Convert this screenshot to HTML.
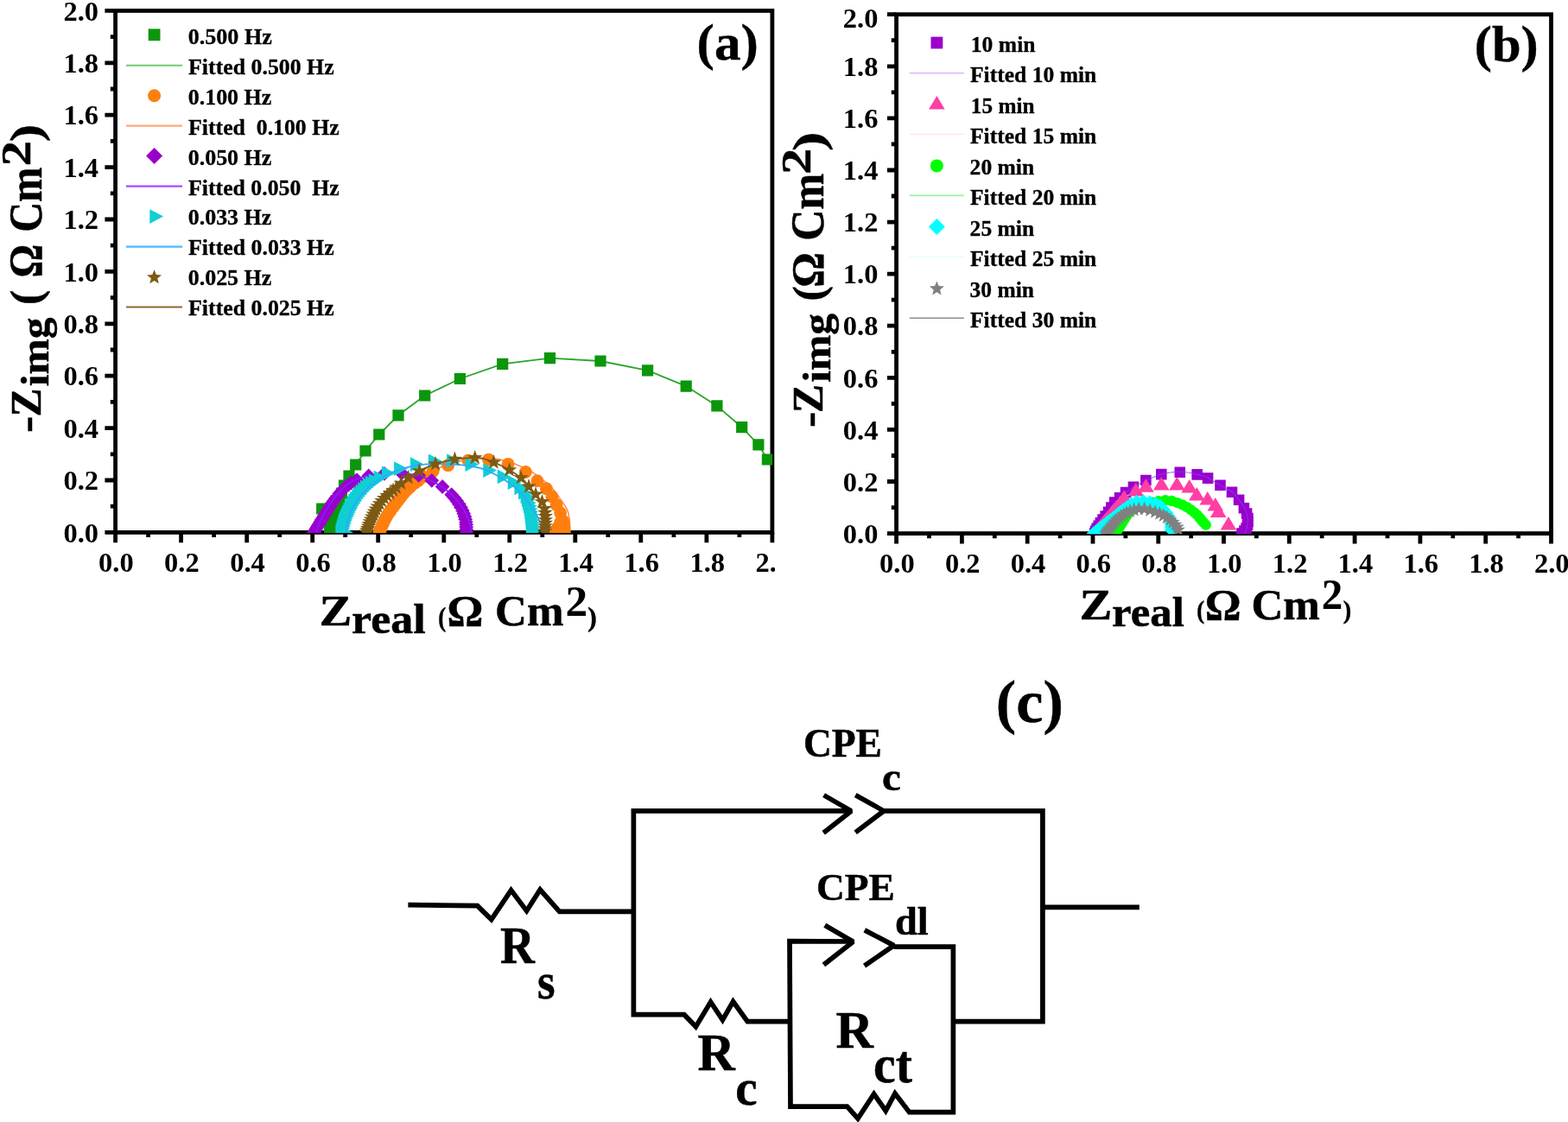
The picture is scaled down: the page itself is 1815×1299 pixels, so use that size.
<!DOCTYPE html>
<html lang="en"><head><meta charset="utf-8"><title>Nyquist plots and equivalent circuit</title>
<style>html,body{margin:0;padding:0;background:#fff}body{width:1815px;height:1299px;overflow:hidden}svg{display:block}text{font-family:"Liberation Serif", "DejaVu Serif", serif}</style></head><body>
<svg width="1815" height="1299" viewBox="0 0 1815 1299">
<rect width="1815" height="1299" fill="#fff"/>
<defs>
<clipPath id="pa-clip"><rect x="133.6" y="12.4" width="760.5" height="604.6"/></clipPath>
<clipPath id="pb-clip"><rect x="1037.6" y="16.7" width="757.9" height="601.5"/></clipPath>
<clipPath id="pa-clipx"><rect x="0" y="0" width="897" height="1299"/></clipPath>
</defs>
<g id="pa-axes" stroke="#000" stroke-width="4.8" fill="none" stroke-linecap="butt">
<rect x="133.6" y="12.4" width="760.3" height="604"/>
<path d="M133.6 616.4v11.8M133.6 616.4h-12.2M171.6 616.4v5.6M133.6 586.2h-5.8M209.6 616.4v11.8M133.6 556h-12.2M247.6 616.4v5.6M133.6 525.8h-5.8M285.7 616.4v11.8M133.6 495.6h-12.2M323.7 616.4v5.6M133.6 465.4h-5.8M361.7 616.4v11.8M133.6 435.2h-12.2M399.7 616.4v5.6M133.6 405h-5.8M437.7 616.4v11.8M133.6 374.8h-12.2M475.7 616.4v5.6M133.6 344.6h-5.8M513.8 616.4v11.8M133.6 314.4h-12.2M551.8 616.4v5.6M133.6 284.2h-5.8M589.8 616.4v11.8M133.6 254h-12.2M627.8 616.4v5.6M133.6 223.8h-5.8M665.8 616.4v11.8M133.6 193.6h-12.2M703.8 616.4v5.6M133.6 163.4h-5.8M741.8 616.4v11.8M133.6 133.2h-12.2M779.9 616.4v5.6M133.6 103h-5.8M817.9 616.4v11.8M133.6 72.8h-12.2M855.9 616.4v5.6M133.6 42.6h-5.8M893.9 616.4v11.8M133.6 12.4h-12.2"/>
</g>
<g id="pa-ticklabels" font-size="32.5" font-weight="bold" fill="#000">
<text x="114" y="627.6" text-anchor="end">0.0</text>
<text x="114" y="567.2" text-anchor="end">0.2</text>
<text x="114" y="506.8" text-anchor="end">0.4</text>
<text x="114" y="446.4" text-anchor="end">0.6</text>
<text x="114" y="386" text-anchor="end">0.8</text>
<text x="114" y="325.6" text-anchor="end">1.0</text>
<text x="114" y="265.2" text-anchor="end">1.2</text>
<text x="114" y="204.8" text-anchor="end">1.4</text>
<text x="114" y="144.4" text-anchor="end">1.6</text>
<text x="114" y="84" text-anchor="end">1.8</text>
<text x="114" y="23.6" text-anchor="end">2.0</text>
<text x="134.4" y="661.5" text-anchor="middle">0.0</text>
<text x="210.4" y="661.5" text-anchor="middle">0.2</text>
<text x="286.5" y="661.5" text-anchor="middle">0.4</text>
<text x="362.5" y="661.5" text-anchor="middle">0.6</text>
<text x="438.5" y="661.5" text-anchor="middle">0.8</text>
<text x="514.5" y="661.5" text-anchor="middle">1.0</text>
<text x="590.6" y="661.5" text-anchor="middle">1.2</text>
<text x="666.6" y="661.5" text-anchor="middle">1.4</text>
<text x="742.6" y="661.5" text-anchor="middle">1.6</text>
<text x="818.7" y="661.5" text-anchor="middle">1.8</text>
<text x="894.7" y="661.5" text-anchor="middle" clip-path="url(#pa-clipx)">2.0</text>
</g>
<g id="pa-titles" font-weight="bold" fill="#000">
<text transform="translate(369.54 724.30) scale(1.1168 1)" font-size="50.8" stroke="#000" stroke-width="0.5">Z</text>
<text transform="translate(406.99 732.70) scale(1.0515 1)" font-size="49.5" stroke="#000" stroke-width="0.5">real</text>
<text transform="translate(507.17 724.90) scale(0.8205 1)" font-size="32.5" stroke="#000" stroke-width="0.5">(</text>
<text transform="translate(517.57 724.30) scale(1.0354 1)" font-size="50.5" stroke="#000" stroke-width="0.5">Ω</text>
<text transform="translate(573.01 724.30) scale(1.0116 1)" font-size="50.5" stroke="#000" stroke-width="0.5">Cm</text>
<text transform="translate(654.39 713.00) scale(1.0084 1)" font-size="51">2</text>
<text transform="translate(680.31 724.90) scale(0.9730 1)" font-size="32.5" stroke="#000" stroke-width="0.5">)</text>
<text transform="translate(47.30 501.01) rotate(-90) scale(1.1595 1)" font-size="50" stroke="#000" stroke-width="0.5">-</text>
<text transform="translate(47.00 482.52) rotate(-90) scale(0.9606 1)" font-size="51.5" stroke="#000" stroke-width="0.5">Z</text>
<text transform="translate(55.80 447.27) rotate(-90) scale(1.0426 1)" font-size="47.5" stroke="#000" stroke-width="0.5">img</text>
<text transform="translate(47.40 353.02) rotate(-90) scale(1.0219 1)" font-size="50.8" stroke="#000" stroke-width="0.5">(</text>
<text transform="translate(47.70 321.51) rotate(-90) scale(0.8977 1)" font-size="54" stroke="#000" stroke-width="0.5">Ω</text>
<text transform="translate(48.30 268.87) rotate(-90) scale(0.8792 1)" font-size="55" stroke="#000" stroke-width="0.5">Cm</text>
<text transform="translate(34.80 192.44) rotate(-90) scale(1.2159 1)" font-size="48.5" stroke="#000" stroke-width="0.5">2</text>
<text transform="translate(47.40 164.22) rotate(-90) scale(1.2080 1)" font-size="50.8" stroke="#000" stroke-width="0.5">)</text>
</g>
<g id="pa-label" font-weight="bold"><text transform="translate(806.59 69.20) scale(1.0194 1)" font-size="60" stroke="#000" stroke-width="0.4">(a)</text></g>
<g id="pa-legend" font-weight="bold" fill="#000">
<path d="M171.7 33.4h13.8v13.8h-13.8z" fill="#0b960b"/>
<text transform="translate(217.68 50.60) scale(1.0044 1)" font-size="26" stroke="#000" stroke-width="0.3">0.500 Hz</text>
<path d="M146 75.7H211" stroke="#6fcb6f" stroke-width="2.1" fill="none"/>
<text transform="translate(218.10 85.58) scale(0.9934 1)" font-size="26" stroke="#000" stroke-width="0.3">Fitted 0.500 Hz</text>
<path d="M171.1 110.8a7.5 7.5 0 1 0 15 0a7.5 7.5 0 1 0 -15 0z" fill="#ff7f0e"/>
<text transform="translate(217.69 120.56) scale(0.9992 1)" font-size="26" stroke="#000" stroke-width="0.3">0.100 Hz</text>
<path d="M146 145.6H211" stroke="#ffa77a" stroke-width="2.1" fill="none"/>
<text transform="translate(218.10 155.54) scale(0.9908 1)" font-size="26" stroke="#000" stroke-width="0.3">Fitted  0.100 Hz</text>
<path d="M178.6 171l9.5 9.5l-9.5 9.5l-9.5 -9.5z" fill="#9a00cc"/>
<text transform="translate(217.69 190.52) scale(0.9992 1)" font-size="26" stroke="#000" stroke-width="0.3">0.050 Hz</text>
<path d="M146 215.6H211" stroke="#a64dff" stroke-width="2.1" fill="none"/>
<text transform="translate(218.10 225.50) scale(0.9908 1)" font-size="26" stroke="#000" stroke-width="0.3">Fitted 0.050  Hz</text>
<path d="M173.3 242.2L189.1 250.6L173.3 258.9z" fill="#0fcfd4"/>
<text transform="translate(217.69 260.48) scale(0.9992 1)" font-size="26" stroke="#000" stroke-width="0.3">0.033 Hz</text>
<path d="M146 285.6H211" stroke="#4db8ff" stroke-width="2.1" fill="none"/>
<text transform="translate(218.10 295.46) scale(0.9934 1)" font-size="26" stroke="#000" stroke-width="0.3">Fitted 0.033 Hz</text>
<path d="M178.6 312.2L180.9 318L187.1 318.4L182.3 322.3L183.8 328.3L178.6 325L173.4 328.3L174.9 322.3L170.1 318.4L176.3 318z" fill="#7d5a14"/>
<text transform="translate(217.69 330.44) scale(0.9992 1)" font-size="26" stroke="#000" stroke-width="0.3">0.025 Hz</text>
<path d="M146 355.5H211" stroke="#8a6a2a" stroke-width="2.1" fill="none"/>
<text transform="translate(218.10 365.42) scale(0.9934 1)" font-size="26" stroke="#000" stroke-width="0.3">Fitted 0.025 Hz</text>
</g>
<g id="pa-data" clip-path="url(#pa-clip)">
<path d="M888.4 532L877.9 514.9L858.7 494.7L829.9 469.9L794.2 447.1L749.6 428.9L695 418L636.5 414.7L581.7 421.3L532.4 438.5L491.7 458L461 480.8L438.8 503L423 522L411.7 538L404 551L398.5 562L395.5 571L393 579L391 586L389.2 592L387.6 597L386.2 601.5L385 605L384 608L383.2 610.5L382.6 612.5L382 614L381.6 615.5" stroke="#2aa52a" stroke-width="1.8" fill="none"/>
<path d="M881.8 525.4h13.2v13.2h-13.2zM871.3 508.3h13.2v13.2h-13.2zM852.1 488.1h13.2v13.2h-13.2zM823.3 463.3h13.2v13.2h-13.2zM787.6 440.5h13.2v13.2h-13.2zM743 422.3h13.2v13.2h-13.2zM688.4 411.4h13.2v13.2h-13.2zM629.9 408.1h13.2v13.2h-13.2zM575.1 414.7h13.2v13.2h-13.2zM525.8 431.9h13.2v13.2h-13.2zM485.1 451.4h13.2v13.2h-13.2zM454.4 474.2h13.2v13.2h-13.2zM432.2 496.4h13.2v13.2h-13.2zM416.4 515.4h13.2v13.2h-13.2zM405.1 531.4h13.2v13.2h-13.2zM397.4 544.4h13.2v13.2h-13.2zM391.9 555.4h13.2v13.2h-13.2zM388.9 564.4h13.2v13.2h-13.2zM386.4 572.4h13.2v13.2h-13.2zM384.4 579.4h13.2v13.2h-13.2zM382.6 585.4h13.2v13.2h-13.2zM381 590.4h13.2v13.2h-13.2zM379.6 594.9h13.2v13.2h-13.2zM378.4 598.4h13.2v13.2h-13.2zM377.4 601.4h13.2v13.2h-13.2zM376.6 603.9h13.2v13.2h-13.2zM376 605.9h13.2v13.2h-13.2zM375.4 607.4h13.2v13.2h-13.2zM375 608.9h13.2v13.2h-13.2zM409.4 559.4h13.2v13.2h-13.2zM366.1 582.4h13.2v13.2h-13.2z" fill="#0b960b"/>
<path d="M439.5 616.4L440.5 614.1L441.9 610.9L443.5 607.2L445.3 603.2L447.2 599.4L449 596L450.8 593L452.7 590.2L454.7 587.6L456.7 585L458.7 582.5L460.6 580L462.4 577.6L464.2 575.3L465.9 573L467.7 570.8L469.5 568.7L471.5 566.6L473.6 564.6L475.7 562.8L477.9 561L480.1 559.2L482.5 557.4L485 555.6L487.6 553.7L490.4 551.8L493.3 549.8L496.2 548L499.1 546.2L502 544.6L504.8 543.2L507.4 542L510.1 540.9L512.9 539.8L515.8 538.8L519 537.8L522.5 536.7L526.1 535.6L529.9 534.6L533.9 533.6L537.9 532.7L542 532L546.2 531.4L550.6 531L555 530.6L559.4 530.4L563.8 530.4L568 530.6L572 531L576 531.6L579.9 532.4L583.6 533.3L587.4 534.3L591 535.4L594.6 536.6L598.2 537.9L601.7 539.4L605.1 540.9L608.4 542.4L611.4 544L614.2 545.6L616.8 547.2L619.2 548.9L621.5 550.5L623.7 552.3L626 554L628.3 555.8L630.6 557.5L632.8 559.3L635 561.2L637.1 563.1L639 565L640.8 567L642.4 569.1L644 571.2L645.5 573.3L646.9 575.5L648.4 577.6L649.9 579.7L651.4 581.8L652.9 583.9L654.3 586.1L655.6 588.2L656.6 590.4L657.4 592.6L658 594.9L658.5 597.2L658.9 599.5L659.2 601.8L659.4 604L659.6 606.3L659.6 608.7L659.6 611L659.5 613.2L659.4 615.1L659.4 616.4" stroke="#ff8c4d" stroke-width="1.6" fill="none"/>
<path d="M431.7 616.4a7.4 7.4 0 1 0 14.8 0a7.4 7.4 0 1 0 -14.8 0zM432.5 614.4a7.4 7.4 0 1 0 14.8 0a7.4 7.4 0 1 0 -14.8 0zM433.4 612.3a7.4 7.4 0 1 0 14.8 0a7.4 7.4 0 1 0 -14.8 0zM434.3 610.1a7.4 7.4 0 1 0 14.8 0a7.4 7.4 0 1 0 -14.8 0zM435.2 608a7.4 7.4 0 1 0 14.8 0a7.4 7.4 0 1 0 -14.8 0zM436.2 605.7a7.4 7.4 0 1 0 14.8 0a7.4 7.4 0 1 0 -14.8 0zM437.3 603.5a7.4 7.4 0 1 0 14.8 0a7.4 7.4 0 1 0 -14.8 0zM438.3 601.2a7.4 7.4 0 1 0 14.8 0a7.4 7.4 0 1 0 -14.8 0zM439.6 598.9a7.4 7.4 0 1 0 14.8 0a7.4 7.4 0 1 0 -14.8 0zM441 596.6a7.4 7.4 0 1 0 14.8 0a7.4 7.4 0 1 0 -14.8 0zM442.5 594.3a7.4 7.4 0 1 0 14.8 0a7.4 7.4 0 1 0 -14.8 0zM444.2 592a7.4 7.4 0 1 0 14.8 0a7.4 7.4 0 1 0 -14.8 0zM445.8 589.6a7.4 7.4 0 1 0 14.8 0a7.4 7.4 0 1 0 -14.8 0zM447.6 587.2a7.4 7.4 0 1 0 14.8 0a7.4 7.4 0 1 0 -14.8 0zM449.4 584.8a7.4 7.4 0 1 0 14.8 0a7.4 7.4 0 1 0 -14.8 0zM451.3 582.3a7.4 7.4 0 1 0 14.8 0a7.4 7.4 0 1 0 -14.8 0zM453.3 579.7a7.4 7.4 0 1 0 14.8 0a7.4 7.4 0 1 0 -14.8 0zM455.3 577.1a7.4 7.4 0 1 0 14.8 0a7.4 7.4 0 1 0 -14.8 0zM457.3 574.4a7.4 7.4 0 1 0 14.8 0a7.4 7.4 0 1 0 -14.8 0zM459.5 571.7a7.4 7.4 0 1 0 14.8 0a7.4 7.4 0 1 0 -14.8 0zM461.8 569.1a7.4 7.4 0 1 0 14.8 0a7.4 7.4 0 1 0 -14.8 0zM464.4 566.5a7.4 7.4 0 1 0 14.8 0a7.4 7.4 0 1 0 -14.8 0zM467.1 563.9a7.4 7.4 0 1 0 14.8 0a7.4 7.4 0 1 0 -14.8 0zM470 561.5a7.4 7.4 0 1 0 14.8 0a7.4 7.4 0 1 0 -14.8 0zM473.1 559.1a7.4 7.4 0 1 0 14.8 0a7.4 7.4 0 1 0 -14.8 0zM476.8 556.4a7.4 7.4 0 1 0 14.8 0a7.4 7.4 0 1 0 -14.8 0zM483 552.1a7.4 7.4 0 1 0 14.8 0a7.4 7.4 0 1 0 -14.8 0zM493.9 545.4a7.4 7.4 0 1 0 14.8 0a7.4 7.4 0 1 0 -14.8 0zM511.3 538.7a7.4 7.4 0 1 0 14.8 0a7.4 7.4 0 1 0 -14.8 0zM534.6 533.1a7.4 7.4 0 1 0 14.8 0a7.4 7.4 0 1 0 -14.8 0zM558.1 532.1a7.4 7.4 0 1 0 14.8 0a7.4 7.4 0 1 0 -14.8 0zM580.7 537.3a7.4 7.4 0 1 0 14.8 0a7.4 7.4 0 1 0 -14.8 0zM601 546.5a7.4 7.4 0 1 0 14.8 0a7.4 7.4 0 1 0 -14.8 0zM614.5 556.7a7.4 7.4 0 1 0 14.8 0a7.4 7.4 0 1 0 -14.8 0zM625 565.7a7.4 7.4 0 1 0 14.8 0a7.4 7.4 0 1 0 -14.8 0zM631.5 575a7.4 7.4 0 1 0 14.8 0a7.4 7.4 0 1 0 -14.8 0zM636.7 584.4a7.4 7.4 0 1 0 14.8 0a7.4 7.4 0 1 0 -14.8 0zM641.2 593.7a7.4 7.4 0 1 0 14.8 0a7.4 7.4 0 1 0 -14.8 0zM644.3 603a7.4 7.4 0 1 0 14.8 0a7.4 7.4 0 1 0 -14.8 0zM645.2 606.8a7.4 7.4 0 1 0 14.8 0a7.4 7.4 0 1 0 -14.8 0zM645.6 610.3a7.4 7.4 0 1 0 14.8 0a7.4 7.4 0 1 0 -14.8 0zM645.8 613.4a7.4 7.4 0 1 0 14.8 0a7.4 7.4 0 1 0 -14.8 0zM646 616.2a7.4 7.4 0 1 0 14.8 0a7.4 7.4 0 1 0 -14.8 0zM638.1 611a7.4 7.4 0 1 0 14.8 0a7.4 7.4 0 1 0 -14.8 0zM641.1 605a7.4 7.4 0 1 0 14.8 0a7.4 7.4 0 1 0 -14.8 0zM635.6 616a7.4 7.4 0 1 0 14.8 0a7.4 7.4 0 1 0 -14.8 0z" fill="#ff7f0e"/>
<path d="M363.5 608l8.4 8.4l-8.4 8.4l-8.4 -8.4zM364.6 606.1l8.4 8.4l-8.4 8.4l-8.4 -8.4zM365.8 604.2l8.4 8.4l-8.4 8.4l-8.4 -8.4zM367 602.2l8.4 8.4l-8.4 8.4l-8.4 -8.4zM368.2 600.2l8.4 8.4l-8.4 8.4l-8.4 -8.4zM369.5 598.1l8.4 8.4l-8.4 8.4l-8.4 -8.4zM370.8 595.9l8.4 8.4l-8.4 8.4l-8.4 -8.4zM372.1 593.7l8.4 8.4l-8.4 8.4l-8.4 -8.4zM373.5 591.5l8.4 8.4l-8.4 8.4l-8.4 -8.4zM374.9 589.2l8.4 8.4l-8.4 8.4l-8.4 -8.4zM376.4 586.8l8.4 8.4l-8.4 8.4l-8.4 -8.4zM377.9 584.4l8.4 8.4l-8.4 8.4l-8.4 -8.4zM379.5 582l8.4 8.4l-8.4 8.4l-8.4 -8.4zM381.1 579.4l8.4 8.4l-8.4 8.4l-8.4 -8.4zM382.7 576.8l8.4 8.4l-8.4 8.4l-8.4 -8.4zM384.4 574.2l8.4 8.4l-8.4 8.4l-8.4 -8.4zM386.3 571.5l8.4 8.4l-8.4 8.4l-8.4 -8.4zM388.2 568.8l8.4 8.4l-8.4 8.4l-8.4 -8.4zM390.3 566.1l8.4 8.4l-8.4 8.4l-8.4 -8.4zM392.5 563.4l8.4 8.4l-8.4 8.4l-8.4 -8.4zM394.9 560.7l8.4 8.4l-8.4 8.4l-8.4 -8.4zM397.4 558l8.4 8.4l-8.4 8.4l-8.4 -8.4zM400.1 555.3l8.4 8.4l-8.4 8.4l-8.4 -8.4zM403.1 552.9l8.4 8.4l-8.4 8.4l-8.4 -8.4zM406.4 550.7l8.4 8.4l-8.4 8.4l-8.4 -8.4zM413 547.2l8.4 8.4l-8.4 8.4l-8.4 -8.4zM426.7 542.5l8.4 8.4l-8.4 8.4l-8.4 -8.4zM444.9 539.9l8.4 8.4l-8.4 8.4l-8.4 -8.4zM464.9 539.4l8.4 8.4l-8.4 8.4l-8.4 -8.4zM484.7 542l8.4 8.4l-8.4 8.4l-8.4 -8.4zM499.8 547.9l8.4 8.4l-8.4 8.4l-8.4 -8.4zM512.1 555.1l8.4 8.4l-8.4 8.4l-8.4 -8.4zM522.7 564.3l8.4 8.4l-8.4 8.4l-8.4 -8.4zM526 568l8.4 8.4l-8.4 8.4l-8.4 -8.4zM528.8 571.7l8.4 8.4l-8.4 8.4l-8.4 -8.4zM531.4 575.4l8.4 8.4l-8.4 8.4l-8.4 -8.4zM533.5 579l8.4 8.4l-8.4 8.4l-8.4 -8.4zM535.3 582.6l8.4 8.4l-8.4 8.4l-8.4 -8.4zM536.7 586.1l8.4 8.4l-8.4 8.4l-8.4 -8.4zM537.9 589.5l8.4 8.4l-8.4 8.4l-8.4 -8.4zM538.7 592.8l8.4 8.4l-8.4 8.4l-8.4 -8.4zM539.3 595.9l8.4 8.4l-8.4 8.4l-8.4 -8.4zM539.6 598.9l8.4 8.4l-8.4 8.4l-8.4 -8.4zM539.7 601.8l8.4 8.4l-8.4 8.4l-8.4 -8.4zM539.8 604.5l8.4 8.4l-8.4 8.4l-8.4 -8.4zM540 607.1l8.4 8.4l-8.4 8.4l-8.4 -8.4z" fill="#9a00cc"/>
<path d="M366 616.4L366.5 615L367.1 613.1L367.8 610.9L368.7 608.5L369.5 606.1L370.4 604L371.2 602.1L372.1 600.4L372.9 598.7L373.9 596.9L375 595L376.4 592.7L378 590L379.9 587L381.9 583.8L384.1 580.5L386.3 577.4L388.5 574.5L390.7 571.8L393 569.2L395.3 566.6L397.7 564.3L400.3 562L403 560L405.9 558.2L409.1 556.5L412.3 555L415.7 553.7L419 552.5L422.4 551.5L425.8 550.7L429.3 550L432.8 549.5L436.3 549.1L439.7 548.8L443 548.5L446.1 548.2L449 548L451.9 547.9L454.8 547.9L457.8 547.9L461 548L464.5 548.2L468.2 548.4L472 548.7L475.8 549.1L479.5 549.6L483 550.3L486.3 551.2L489.3 552.2L492.3 553.3L495.3 554.6L498.2 556L501.2 557.6L504.3 559.3L507.4 561.1L510.5 563.1L513.6 565.2L516.6 567.4L519.4 569.7L522.1 572.1L524.7 574.6L527.2 577.2L529.6 579.8L531.9 582.6L534 585.5L536 588.6L537.9 592L539.6 595.4L541.2 598.8L542.5 602L543.6 604.8L544.3 607.3L544.7 609.7L544.8 611.8L544.8 613.7L544.8 615.2L544.8 616.4" stroke="#8a1aff" stroke-width="1.8" fill="none"/>
<path d="M388.3 608L404.1 616.4L388.3 624.8zM388.8 605.9L404.6 614.3L388.8 622.6zM389.4 603.7L405.2 612.1L389.4 620.4zM389.9 601.5L405.7 609.8L389.9 618.2zM390.6 599.2L406.4 607.5L390.6 615.9zM391.3 596.8L407.1 605.2L391.3 613.5zM392 594.4L407.8 602.8L392 611.1zM392.9 592L408.7 600.4L392.9 608.7zM394 589.6L409.8 598L394 606.3zM395.1 587.1L410.9 595.5L395.1 603.8zM396.2 584.6L412 592.9L396.2 601.3zM397.5 582L413.3 590.3L397.5 598.7zM398.8 579.4L414.6 587.7L398.8 596.1zM400.1 576.7L415.9 585L400.1 593.4zM401.7 574L417.5 582.4L401.7 590.7zM403.4 571.3L419.2 579.7L403.4 588zM405.2 568.7L421 577L405.2 585.4zM407.3 566L423.1 574.3L407.3 582.7zM409.5 563.3L425.3 571.7L409.5 580zM411.8 560.7L427.6 569.1L411.8 577.4zM414.3 558.1L430.1 566.4L414.3 574.8zM417 555.5L432.8 563.9L417 572.2zM420 553.1L435.8 561.5L420 569.8zM423.1 550.8L438.9 559.2L423.1 567.5zM426.8 548.3L442.6 556.7L426.8 565zM432.6 544.6L448.4 553L432.6 561.3zM441.9 539.6L457.7 548L441.9 556.3zM456.1 534.2L471.9 542.5L456.1 550.9zM475 529.2L490.8 537.6L475 545.9zM495.8 525.4L511.6 533.7L495.8 542.1zM517.2 525.2L533 533.6L517.2 541.9zM538.5 529.2L554.3 537.5L538.5 545.9zM559.3 536.2L575.1 544.6L559.3 552.9zM575.8 543.5L591.6 551.9L575.8 560.2zM587.8 550.2L603.6 558.6L587.8 566.9zM595.4 556.5L611.2 564.8L595.4 573.2zM600 561.9L615.8 570.3L600 578.6zM602.6 566.4L618.4 574.8L602.6 583.1zM603.9 570.2L619.7 578.5L603.9 586.9zM605 573.8L620.8 582.2L605 590.5zM605.9 577.4L621.7 585.8L605.9 594.1zM606.7 580.9L622.5 589.2L606.7 597.6zM607.3 584.2L623.1 592.6L607.3 600.9zM607.7 587.5L623.5 595.8L607.7 604.2zM608.1 590.6L623.9 599L608.1 607.3zM608.4 593.7L624.2 602L608.4 610.4zM608.7 596.6L624.5 604.9L608.7 613.3zM608.9 599.4L624.7 607.8L608.9 616.1zM609 602.1L624.8 610.5L609 618.8zM609.2 604.7L625 613.1L609.2 621.4zM609.3 607.3L625.1 615.6L609.3 624zM391.1 607L406.9 615.4L391.1 623.8zM393.1 608L408.9 616.4L393.1 624.8z" fill="#0fcfd4"/>
<path d="M400.6 616.4L400.9 614.3L401.4 611.5L401.9 608.1L402.5 604.4L403.3 600.8L404.2 597.6L405.3 594.6L406.5 591.7L407.9 588.8L409.4 586L411 583.3L412.7 580.6L414.5 578L416.5 575.4L418.5 572.8L420.6 570.4L422.7 568.1L424.8 566L426.8 564.1L428.9 562.3L430.9 560.8L432.9 559.3L435 557.8L437 556.4L439 555L441 553.7L443 552.4L445 551.2L447 550.1L449 549L451 548L453.1 547.2L455.1 546.4L457.1 545.6L459.2 544.9L461.2 544.2L463.2 543.5L465.2 542.9L467.2 542.2L469.3 541.7L471.3 541.1L473.3 540.6L475.3 540.1L477.1 539.7L479 539.2L481 538.9L483.1 538.5L485.5 538.2L488.2 537.9L491.3 537.7L494.6 537.4L497.8 537.2L500.9 537.1L503.6 537L505.8 537L507.7 537L509.4 537L511.1 537.1L513.1 537.2L515.4 537.3L518.2 537.4L521.3 537.5L524.7 537.7L528.1 537.8L531.6 538.1L535 538.4L538.4 538.8L541.8 539.2L545.2 539.8L548.6 540.3L552 541L555.1 541.8L558.1 542.7L560.9 543.7L563.6 544.7L566.2 545.9L568.9 547.2L571.6 548.5L574.4 550L577.3 551.6L580.2 553.3L583.1 555.1L585.8 556.8L588.2 558.4L590.4 559.9L592.3 561.3L594.1 562.7L595.7 564.1L597.4 565.6L599.2 567.2L601.1 569L602.9 570.9L604.8 573L606.7 575.1L608.5 577.2L610.2 579.3L611.8 581.4L613.4 583.6L614.9 585.9L616.3 588.1L617.7 590.4L619 592.6L620.3 594.8L621.6 597.1L622.8 599.4L623.9 601.6L624.8 603.8L625.6 605.8L626.1 607.8L626.4 609.9L626.6 611.9L626.6 613.7L626.6 615.3L626.7 616.4" stroke="#2ea8ff" stroke-width="1.8" fill="none"/>
<path d="M424 616.4L424.6 614.7L425.4 612.3L426.4 609.5L427.5 606.5L428.6 603.6L429.6 601L430.6 598.7L431.6 596.4L432.6 594.2L433.7 592.1L434.8 590L436 588L437.3 586L438.7 584L440.1 582.1L441.6 580.3L443.1 578.6L444.5 577L445.9 575.6L447.3 574.3L448.7 573.2L450.1 572.1L451.5 570.9L453 569.7L454.5 568.4L456.1 567L457.6 565.5L459.2 564.1L460.8 562.6L462.5 561.2L464.1 559.8L465.8 558.4L467.4 557L469.2 555.5L471 554.1L473 552.7L475.2 551.3L477.4 549.8L479.8 548.4L482.3 546.9L484.9 545.5L487.5 544.2L490.2 542.9L492.9 541.6L495.7 540.4L498.7 539.2L501.7 538.1L505 537L508.5 535.9L512.2 534.9L516 533.9L519.9 533L523.9 532.2L527.9 531.5L532.1 531L536.5 530.6L540.9 530.3L545.3 530.1L549.3 530.1L552.9 530.2L555.8 530.4L558.2 530.8L560.3 531.2L562.4 531.8L564.6 532.6L567.2 533.6L570.3 534.8L573.7 536.2L577.3 537.8L580.9 539.5L584.4 541.3L587.6 543L590.6 544.7L593.6 546.5L596.5 548.4L599.2 550.3L601.7 552.1L604 554L606 555.8L607.7 557.7L609.2 559.6L610.6 561.4L612 563.2L613.5 565L615 566.7L616.6 568.4L618.1 570.1L619.5 571.8L621 573.4L622.3 575L623.6 576.5L624.8 577.8L626 579.1L627.2 580.5L628.2 582.1L629 584L629.7 586.3L630.2 588.8L630.7 591.5L631 594.4L631.2 597.2L631.4 600L631.4 602.9L631.3 606L631.1 609.2L630.9 612.1L630.7 614.6L630.6 616.4" stroke="#7d5a14" stroke-width="1.8" fill="none"/>
<path d="M424 607.2L426.2 613.4L432.7 613.6L427.5 617.5L429.4 623.8L424 620.1L418.6 623.8L420.5 617.5L415.3 613.6L421.8 613.4zM424.8 604.9L427 611.1L433.5 611.3L428.3 615.3L430.2 621.6L424.8 617.8L419.4 621.6L421.3 615.3L416 611.3L422.6 611.1zM425.6 602.6L427.8 608.8L434.4 608.9L429.1 612.9L431 619.2L425.6 615.5L420.2 619.2L422.1 612.9L416.9 608.9L423.4 608.8zM426.5 600.1L428.7 606.3L435.2 606.5L430 610.4L431.9 616.7L426.5 613L421.1 616.7L423 610.4L417.7 606.5L424.3 606.3zM427.4 597.5L429.6 603.7L436.1 603.9L430.9 607.9L432.8 614.2L427.4 610.4L422 614.2L423.9 607.9L418.6 603.9L425.2 603.7zM428.4 594.9L430.6 601.1L437.1 601.2L431.9 605.2L433.8 611.5L428.4 607.8L423 611.5L424.9 605.2L419.6 601.2L426.2 601.1zM429.5 592.1L431.7 598.3L438.2 598.4L433 602.4L434.9 608.7L429.5 605L424.1 608.7L426 602.4L420.7 598.4L427.3 598.3zM430.7 589.2L432.9 595.4L439.5 595.6L434.2 599.6L436.1 605.9L430.7 602.1L425.3 605.9L427.2 599.6L422 595.6L428.5 595.4zM432 586.3L434.2 592.5L440.8 592.6L435.6 596.6L437.4 602.9L432 599.2L426.6 602.9L428.5 596.6L423.3 592.6L429.9 592.5zM433.5 583.2L435.7 589.4L442.3 589.6L437 593.6L438.9 599.9L433.5 596.1L428.1 599.9L430 593.6L424.8 589.6L431.3 589.4zM435.2 580.1L437.4 586.3L444 586.5L438.7 590.5L440.6 596.8L435.2 593L429.8 596.8L431.7 590.5L426.5 586.5L433 586.3zM437.2 577L439.3 583.2L445.9 583.4L440.7 587.3L442.6 593.6L437.2 589.9L431.8 593.6L433.7 587.3L428.4 583.4L435 583.2zM439.4 573.9L441.6 580.1L448.2 580.2L442.9 584.2L444.8 590.5L439.4 586.8L434 590.5L435.9 584.2L430.7 580.2L437.2 580.1zM441.9 570.7L444.1 576.9L450.7 577.1L445.4 581.1L447.3 587.4L441.9 583.6L436.5 587.4L438.4 581.1L433.2 577.1L439.8 576.9zM444.7 567.6L446.9 573.8L453.5 573.9L448.2 577.9L450.1 584.2L444.7 580.5L439.3 584.2L441.2 577.9L436 573.9L442.5 573.8zM447.9 564.6L450.1 570.8L456.7 571L451.5 575L453.3 581.3L447.9 577.5L442.5 581.3L444.4 575L439.2 571L445.8 570.8zM451.5 561.8L453.7 568L460.3 568.1L455 572.1L456.9 578.4L451.5 574.7L446.1 578.4L448 572.1L442.8 568.1L449.3 568zM455.1 558.6L457.3 564.8L463.9 565L458.6 569L460.5 575.3L455.1 571.5L449.7 575.3L451.6 569L446.4 565L452.9 564.8zM458.8 555.3L461 561.5L467.6 561.6L462.3 565.6L464.2 571.9L458.8 568.2L453.4 571.9L455.3 565.6L450.1 561.6L456.6 561.5zM464.3 550.5L466.4 556.7L473 556.8L467.8 560.8L469.7 567.1L464.3 563.4L458.8 567.1L460.7 560.8L455.5 556.8L462.1 556.7zM472.6 543.8L474.7 550L481.3 550.2L476.1 554.2L478 560.5L472.6 556.7L467.2 560.5L469 554.2L463.8 550.2L470.4 550zM485.4 536.1L487.6 542.3L494.2 542.4L489 546.4L490.8 552.7L485.4 549L480 552.7L481.9 546.4L476.7 542.4L483.3 542.3zM504.1 528.1L506.3 534.3L512.8 534.5L507.6 538.4L509.5 544.7L504.1 541L498.7 544.7L500.6 538.4L495.3 534.5L501.9 534.3zM526.4 522.5L528.6 528.7L535.2 528.9L529.9 532.9L531.8 539.2L526.4 535.4L521 539.2L522.9 532.9L517.7 528.9L524.3 528.7zM549.7 520.9L551.9 527.1L558.5 527.3L553.3 531.3L555.2 537.6L549.7 533.8L544.3 537.6L546.2 531.3L541 527.3L547.6 527.1zM571.5 526.1L573.6 532.3L580.2 532.4L575 536.4L576.9 542.7L571.5 539L566 542.7L567.9 536.4L562.7 532.4L569.3 532.3zM589.6 535L591.8 541.2L598.4 541.3L593.1 545.3L595 551.6L589.6 547.9L584.2 551.6L586.1 545.3L580.9 541.3L587.5 541.2zM603 544L605.1 550.2L611.7 550.3L606.5 554.3L608.4 560.6L603 556.9L597.6 560.6L599.5 554.3L594.2 550.3L600.8 550.2zM612.1 554.1L614.3 560.3L620.9 560.5L615.6 564.5L617.5 570.8L612.1 567L606.7 570.8L608.6 564.5L603.4 560.5L609.9 560.3zM620.1 563.2L622.3 569.5L628.9 569.6L623.6 573.6L625.5 579.9L620.1 576.1L614.7 579.9L616.6 573.6L611.4 569.6L618 569.5zM627.5 571.9L629.7 578.1L636.3 578.2L631 582.2L632.9 588.5L627.5 584.8L622.1 588.5L624 582.2L618.8 578.2L625.3 578.1zM630.2 579.6L632.4 585.8L639 586L633.8 589.9L635.6 596.2L630.2 592.5L624.8 596.2L626.7 589.9L621.5 586L628.1 585.8zM630.9 584.4L633.1 590.6L639.7 590.7L634.4 594.7L636.3 601L630.9 597.3L625.5 601L627.4 594.7L622.2 590.7L628.7 590.6zM631.3 588.8L633.5 595L640 595.1L634.8 599.1L636.7 605.4L631.3 601.7L625.9 605.4L627.8 599.1L622.5 595.1L629.1 595zM631.4 592.8L633.6 599L640.2 599.2L634.9 603.1L636.8 609.4L631.4 605.7L626 609.4L627.9 603.1L622.7 599.2L629.3 599zM631.4 596.5L633.5 602.7L640.1 602.8L634.9 606.8L636.8 613.1L631.4 609.4L625.9 613.1L627.8 606.8L622.6 602.8L629.2 602.7zM631.2 599.8L633.3 606L639.9 606.2L634.7 610.2L636.6 616.5L631.2 612.7L625.8 616.5L627.6 610.2L622.4 606.2L629 606zM630.9 602.9L633.1 609.1L639.7 609.2L634.5 613.2L636.3 619.5L630.9 615.8L625.5 619.5L627.4 613.2L622.2 609.2L628.8 609.1zM630.7 605.6L632.9 611.8L639.5 612L634.2 616L636.1 622.3L630.7 618.5L625.3 622.3L627.2 616L622 612L628.5 611.8z" fill="#7d5a14"/>
</g>
<g id="pb-axes" stroke="#000" stroke-width="4.8" fill="none" stroke-linecap="butt">
<rect x="1037.6" y="16.7" width="757.9" height="600.9"/>
<path d="M1037.6 617.6v11.8M1037.6 617.6h-10.6M1075.5 617.6v5.6M1037.6 587.6h-5.8M1113.4 617.6v11.8M1037.6 557.5h-10.6M1151.3 617.6v5.6M1037.6 527.5h-5.8M1189.2 617.6v11.8M1037.6 497.4h-10.6M1227.1 617.6v5.6M1037.6 467.4h-5.8M1265 617.6v11.8M1037.6 437.3h-10.6M1302.9 617.6v5.6M1037.6 407.3h-5.8M1340.8 617.6v11.8M1037.6 377.2h-10.6M1378.7 617.6v5.6M1037.6 347.2h-5.8M1416.5 617.6v11.8M1037.6 317.2h-10.6M1454.4 617.6v5.6M1037.6 287.1h-5.8M1492.3 617.6v11.8M1037.6 257.1h-10.6M1530.2 617.6v5.6M1037.6 227h-5.8M1568.1 617.6v11.8M1037.6 197h-10.6M1606 617.6v5.6M1037.6 166.9h-5.8M1643.9 617.6v11.8M1037.6 136.9h-10.6M1681.8 617.6v5.6M1037.6 106.8h-5.8M1719.7 617.6v11.8M1037.6 76.8h-10.6M1757.6 617.6v5.6M1037.6 46.7h-5.8M1795.5 617.6v11.8M1037.6 16.7h-10.6"/>
</g>
<g id="pb-ticklabels" font-size="32.5" font-weight="bold" fill="#000">
<text x="1016.4" y="628.8" text-anchor="end">0.0</text>
<text x="1016.4" y="568.7" text-anchor="end">0.2</text>
<text x="1016.4" y="508.6" text-anchor="end">0.4</text>
<text x="1016.4" y="448.5" text-anchor="end">0.6</text>
<text x="1016.4" y="388.4" text-anchor="end">0.8</text>
<text x="1016.4" y="328.4" text-anchor="end">1.0</text>
<text x="1016.4" y="268.3" text-anchor="end">1.2</text>
<text x="1016.4" y="208.2" text-anchor="end">1.4</text>
<text x="1016.4" y="148.1" text-anchor="end">1.6</text>
<text x="1016.4" y="88" text-anchor="end">1.8</text>
<text x="1016.4" y="32.1" text-anchor="end">2.0</text>
<text x="1038.4" y="662.6" text-anchor="middle">0.0</text>
<text x="1114.2" y="662.6" text-anchor="middle">0.2</text>
<text x="1190" y="662.6" text-anchor="middle">0.4</text>
<text x="1265.8" y="662.6" text-anchor="middle">0.6</text>
<text x="1341.6" y="662.6" text-anchor="middle">0.8</text>
<text x="1417.3" y="662.6" text-anchor="middle">1.0</text>
<text x="1493.1" y="662.6" text-anchor="middle">1.2</text>
<text x="1568.9" y="662.6" text-anchor="middle">1.4</text>
<text x="1644.7" y="662.6" text-anchor="middle">1.6</text>
<text x="1720.5" y="662.6" text-anchor="middle">1.8</text>
<text x="1796.3" y="662.6" text-anchor="middle">2.0</text>
</g>
<g id="pb-titles" font-weight="bold" fill="#000">
<text transform="translate(1249.54 716.80) scale(1.1168 1)" font-size="50.8" stroke="#000" stroke-width="0.5">Z</text>
<text transform="translate(1287.01 725.20) scale(1.0278 1)" font-size="49.5" stroke="#000" stroke-width="0.5">real</text>
<text transform="translate(1385.27 715.80) scale(0.8743 1)" font-size="30.5" stroke="#000" stroke-width="0.5">(</text>
<text transform="translate(1394.77 716.80) scale(1.0354 1)" font-size="50.5" stroke="#000" stroke-width="0.5">Ω</text>
<text transform="translate(1448.41 716.80) scale(1.0116 1)" font-size="50.5" stroke="#000" stroke-width="0.5">Cm</text>
<text transform="translate(1529.76 704.60) scale(0.9636 1)" font-size="51">2</text>
<text transform="translate(1554.82 715.80) scale(0.9257 1)" font-size="30.5" stroke="#000" stroke-width="0.5">)</text>
<text transform="translate(952.50 495.02) rotate(-90) scale(1.0993 1)" font-size="50" stroke="#000" stroke-width="0.5">-</text>
<text transform="translate(952.00 478.12) rotate(-90) scale(0.9606 1)" font-size="51.5" stroke="#000" stroke-width="0.5">Z</text>
<text transform="translate(961.40 442.87) rotate(-90) scale(1.0426 1)" font-size="47.5" stroke="#000" stroke-width="0.5">img</text>
<text transform="translate(952.70 348.62) rotate(-90) scale(1.0382 1)" font-size="50" stroke="#000" stroke-width="0.5">(</text>
<text transform="translate(953.10 332.78) rotate(-90) scale(0.9558 1)" font-size="53" stroke="#000" stroke-width="0.5">Ω</text>
<text transform="translate(953.10 278.64) rotate(-90) scale(0.9263 1)" font-size="54" stroke="#000" stroke-width="0.5">Cm</text>
<text transform="translate(938.00 202.10) rotate(-90) scale(1.2536 1)" font-size="48.5" stroke="#000" stroke-width="0.5">2</text>
<text transform="translate(952.70 174.89) rotate(-90) scale(1.3402 1)" font-size="50" stroke="#000" stroke-width="0.5">)</text>
</g>
<g id="pb-label" font-weight="bold"><text transform="translate(1706.81 70.80) scale(1.0088 1)" font-size="60" stroke="#000" stroke-width="0.4">(b)</text></g>
<g id="pb-legend" font-weight="bold" fill="#000">
<path d="M1077.5 42.6h13.8v13.8h-13.8z" fill="#9a00cc"/>
<text transform="translate(1123.80 59.80) scale(1.0009 1)" font-size="25.6" stroke="#000" stroke-width="0.3">10 min</text>
<path d="M1052.8 84.6H1115.9" stroke="#e6b8ff" stroke-width="1.6" fill="none"/>
<text transform="translate(1123.00 95.27) scale(0.9997 1)" font-size="25.6" stroke="#000" stroke-width="0.3">Fitted 10 min</text>
<path d="M1084.4 110.9L1093.7 126.4L1075.1 126.4z" fill="#ff3fa4"/>
<text transform="translate(1123.82 130.74) scale(0.9884 1)" font-size="25.6" stroke="#000" stroke-width="0.3">15 min</text>
<path d="M1052.8 155.5H1115.9" stroke="#fde6f2" stroke-width="1.6" fill="none"/>
<text transform="translate(1123.00 166.21) scale(0.9997 1)" font-size="25.6" stroke="#000" stroke-width="0.3">Fitted 15 min</text>
<path d="M1076.9 191.9a7.5 7.5 0 1 0 15 0a7.5 7.5 0 1 0 -15 0z" fill="#00ff00"/>
<text transform="translate(1122.60 201.68) scale(0.9995 1)" font-size="25.6" stroke="#000" stroke-width="0.3">20 min</text>
<path d="M1052.8 226.4H1115.9" stroke="#9af59a" stroke-width="1.6" fill="none"/>
<text transform="translate(1123.00 237.15) scale(0.9997 1)" font-size="25.6" stroke="#000" stroke-width="0.3">Fitted 20 min</text>
<path d="M1084.4 253.1l9.5 9.5l-9.5 9.5l-9.5 -9.5z" fill="#00ffff"/>
<text transform="translate(1122.60 272.62) scale(0.9995 1)" font-size="25.6" stroke="#000" stroke-width="0.3">25 min</text>
<path d="M1052.8 297.4H1115.9" stroke="#e6ffff" stroke-width="1.6" fill="none"/>
<text transform="translate(1123.00 308.09) scale(0.9997 1)" font-size="25.6" stroke="#000" stroke-width="0.3">Fitted 25 min</text>
<path d="M1084.4 325.4L1086.7 331.1L1092.9 331.5L1088.1 335.5L1089.6 341.5L1084.4 338.2L1079.2 341.5L1080.7 335.5L1075.9 331.5L1082.1 331.1z" fill="#808080"/>
<text transform="translate(1122.60 343.56) scale(0.9968 1)" font-size="25.6" stroke="#000" stroke-width="0.3">30 min</text>
<path d="M1052.8 368.3H1115.9" stroke="#8c8c8c" stroke-width="1.6" fill="none"/>
<text transform="translate(1123.00 379.03) scale(0.9997 1)" font-size="25.6" stroke="#000" stroke-width="0.3">Fitted 30 min</text>
</g>
<g id="pb-data" clip-path="url(#pb-clip)">
<path d="M1260.9 611.3h12.6v12.6h-12.6zM1261.9 608.5h12.6v12.6h-12.6zM1263.4 605.5h12.6v12.6h-12.6zM1265.4 602.4h12.6v12.6h-12.6zM1267.6 598.9h12.6v12.6h-12.6zM1270.3 595.2h12.6v12.6h-12.6zM1273.4 591.2h12.6v12.6h-12.6zM1276.8 586.6h12.6v12.6h-12.6zM1280.1 581.2h12.6v12.6h-12.6zM1284 575.3h12.6v12.6h-12.6zM1289.8 569.9h12.6v12.6h-12.6zM1296.8 563.7h12.6v12.6h-12.6zM1305.7 557.6h12.6v12.6h-12.6zM1320.1 549.7h12.6v12.6h-12.6zM1338 542.8h12.6v12.6h-12.6zM1359.5 540.5h12.6v12.6h-12.6zM1379.4 543.1h12.6v12.6h-12.6zM1391.8 547.3h12.6v12.6h-12.6zM1406.2 555.4h12.6v12.6h-12.6zM1419.7 563.5h12.6v12.6h-12.6zM1427.8 572.5h12.6v12.6h-12.6zM1433.6 582h12.6v12.6h-12.6zM1436.8 588.3h12.6v12.6h-12.6zM1438.1 593.7h12.6v12.6h-12.6zM1438.3 597.7h12.6v12.6h-12.6zM1437.7 601.7h12.6v12.6h-12.6zM1436.3 605.2h12.6v12.6h-12.6zM1434.2 608.2h12.6v12.6h-12.6zM1431.2 611.3h12.6v12.6h-12.6z" fill="#9a00cc"/>
<path d="M1267.2 617.6L1267.4 617.2L1267.5 616.6L1267.7 616L1268 615.2L1268.4 614.2L1268.9 613.2L1269.6 612L1270.4 610.7L1271.3 609.2L1272.3 607.6L1273.4 606.1L1274.4 604.5L1275.6 602.9L1276.9 601.1L1278.3 599.3L1279.6 597.6L1280.8 596L1281.8 594.7L1282.6 593.7L1283.1 593L1283.6 592.4L1284 591.8L1284.4 591.2L1284.9 590.4L1285.5 589.4L1286 588.3L1286.6 587.1L1287.2 585.9L1287.9 584.7L1288.6 583.6L1289.4 582.6L1290.2 581.7L1291.1 580.9L1292.1 580L1293.1 579.1L1294.2 578.1L1295.3 577L1296.6 575.8L1297.9 574.5L1299.2 573.2L1300.7 572L1302.2 570.7L1303.8 569.5L1305.4 568.2L1307.2 567L1309 565.7L1310.9 564.5L1312.9 563.3L1315 562.1L1317.2 561L1319.4 559.9L1321.8 558.8L1324.3 557.7L1326.8 556.5L1329.5 555.2L1332.2 553.9L1335.1 552.5L1338 551.2L1341.1 550.1L1344.3 549.1L1347.6 548.3L1351.2 547.6L1354.8 547L1358.5 546.6L1362.2 546.3L1365.7 546.2L1369.2 546.3L1372.7 546.7L1376.1 547.2L1379.4 547.8L1382.5 548.5L1385.4 549.1L1387.9 549.6L1390.1 550.1L1392 550.7L1393.9 551.3L1395.9 552.1L1398 553L1400.2 554.2L1402.6 555.6L1404.9 557.2L1407.3 558.8L1409.7 560.4L1412 561.8L1414.4 563.1L1416.9 564.3L1419.3 565.5L1421.7 566.7L1423.9 568L1425.9 569.3L1427.6 570.7L1429.1 572.3L1430.4 573.9L1431.7 575.5L1432.8 577.1L1434 578.6L1435.1 580L1436.1 581.4L1437.1 582.7L1438.1 584.1L1438.9 585.4L1439.7 586.7L1440.4 588L1441.1 589.4L1441.7 590.7L1442.3 592L1442.8 593.4L1443.2 594.8L1443.6 596.3L1443.9 597.9L1444.1 599.5L1444.3 601L1444.4 602.6L1444.4 604L1444.4 605.3L1444.2 606.5L1444 607.7L1443.8 608.8L1443.5 609.9L1443.2 611L1442.9 612.2L1442.4 613.5L1442 614.7L1441.6 615.9L1441.2 616.9L1441 617.6" stroke="#7f3fff" stroke-width="1.1" fill="none" opacity="0.75"/>
<path d="M1268.4 617.6L1269.2 616.6L1270.4 615.1L1271.9 613.4L1273.4 611.5L1274.9 609.7L1276.3 608L1277.7 606.4L1279 604.9L1280.3 603.3L1281.7 601.7L1283 600.1L1284.5 598.4L1286 596.6L1287.6 594.8L1289.2 592.9L1290.8 590.9L1292.4 589L1294 587L1295.5 585L1297 582.8L1298.5 580.7L1300 578.6L1301.5 576.6L1303.2 575L1305 573.7L1306.9 572.6L1308.9 571.6L1310.8 570.8L1312.8 570L1314.8 569.2L1316.7 568.3L1318.4 567.5L1320.2 566.7L1322.1 565.9L1324.1 565.2L1326.4 564.6L1329 564.1L1331.9 563.6L1334.9 563.2L1338.1 562.8L1341.2 562.5L1344.3 562.3L1347.3 562.1L1350.5 562L1353.6 562L1356.6 562.1L1359.6 562.2L1362.4 562.4L1365.1 562.7L1367.7 563L1370.1 563.3L1372.5 563.8L1374.7 564.5L1376.7 565.4L1378.4 566.6L1379.8 568.1L1381.1 569.8L1382.4 571.5L1383.7 573.1L1385.3 574.4L1387.2 575.4L1389.3 576.2L1391.5 576.9L1393.7 577.6L1395.9 578.3L1397.8 579.2L1399.6 580.2L1401.3 581.3L1402.9 582.5L1404.3 583.7L1405.7 585L1406.8 586.2L1407.6 587.4L1408 588.4L1408.3 589.5L1408.7 590.7L1409.2 592.1L1410.2 593.8L1411.8 596L1413.9 598.7L1416.3 601.6L1418.6 604.4L1420.6 606.7L1422 608.4" stroke="#ffd9ec" stroke-width="1" fill="none"/>
<path d="M1268.4 607.3L1277.7 622.8L1259.1 622.8zM1270 605.3L1279.3 620.8L1260.7 620.8zM1271.6 603.3L1280.9 618.8L1262.3 618.8zM1273.4 601.2L1282.7 616.7L1264.1 616.7zM1275.3 598.9L1284.6 614.4L1266 614.4zM1277.3 596.5L1286.6 612L1268 612zM1279.4 594.1L1288.7 609.6L1270.1 609.6zM1281.6 591.4L1290.9 606.9L1272.3 606.9zM1284 588.7L1293.3 604.2L1274.7 604.2zM1286.4 585.8L1295.7 601.3L1277.1 601.3zM1289.1 582.6L1298.4 598.1L1279.8 598.1zM1292.4 578.7L1301.7 594.2L1283.1 594.2zM1296.4 573.7L1305.7 589.2L1287.1 589.2zM1301.2 567.3L1310.5 582.8L1291.9 582.8zM1314.8 558.9L1324.1 574.4L1305.5 574.4zM1326.4 554.3L1335.7 569.8L1317.1 569.8zM1344.3 552L1353.6 567.5L1335 567.5zM1362.4 552.1L1371.7 567.6L1353.1 567.6zM1376.7 555.1L1386 570.6L1367.4 570.6zM1385.3 564.1L1394.6 579.6L1376 579.6zM1397.8 568.9L1407.1 584.4L1388.5 584.4zM1406.8 575.9L1416.1 591.4L1397.5 591.4zM1410.2 583.5L1419.5 599L1400.9 599zM1422 598.1L1431.3 613.6L1412.7 613.6z" fill="#ff3fa4"/>
<path d="M1284.8 617.6a6.2 6.2 0 1 0 12.4 0a6.2 6.2 0 1 0 -12.4 0zM1285.9 615.9a6.2 6.2 0 1 0 12.4 0a6.2 6.2 0 1 0 -12.4 0zM1287 614.2a6.2 6.2 0 1 0 12.4 0a6.2 6.2 0 1 0 -12.4 0zM1288.2 612.3a6.2 6.2 0 1 0 12.4 0a6.2 6.2 0 1 0 -12.4 0zM1289.5 610.4a6.2 6.2 0 1 0 12.4 0a6.2 6.2 0 1 0 -12.4 0zM1290.8 608.3a6.2 6.2 0 1 0 12.4 0a6.2 6.2 0 1 0 -12.4 0zM1292.2 606.2a6.2 6.2 0 1 0 12.4 0a6.2 6.2 0 1 0 -12.4 0zM1293.6 603.9a6.2 6.2 0 1 0 12.4 0a6.2 6.2 0 1 0 -12.4 0zM1295.1 601.5a6.2 6.2 0 1 0 12.4 0a6.2 6.2 0 1 0 -12.4 0zM1296.7 598.9a6.2 6.2 0 1 0 12.4 0a6.2 6.2 0 1 0 -12.4 0zM1298.4 596.3a6.2 6.2 0 1 0 12.4 0a6.2 6.2 0 1 0 -12.4 0zM1300.4 593.8a6.2 6.2 0 1 0 12.4 0a6.2 6.2 0 1 0 -12.4 0zM1302.8 591.4a6.2 6.2 0 1 0 12.4 0a6.2 6.2 0 1 0 -12.4 0zM1305.8 589.3a6.2 6.2 0 1 0 12.4 0a6.2 6.2 0 1 0 -12.4 0zM1309.2 587.6a6.2 6.2 0 1 0 12.4 0a6.2 6.2 0 1 0 -12.4 0zM1312.8 586a6.2 6.2 0 1 0 12.4 0a6.2 6.2 0 1 0 -12.4 0zM1317.1 584.5a6.2 6.2 0 1 0 12.4 0a6.2 6.2 0 1 0 -12.4 0zM1322.2 583.2a6.2 6.2 0 1 0 12.4 0a6.2 6.2 0 1 0 -12.4 0zM1328.1 581.8a6.2 6.2 0 1 0 12.4 0a6.2 6.2 0 1 0 -12.4 0zM1334.8 580.1a6.2 6.2 0 1 0 12.4 0a6.2 6.2 0 1 0 -12.4 0zM1342.8 579.1a6.2 6.2 0 1 0 12.4 0a6.2 6.2 0 1 0 -12.4 0zM1350.1 580a6.2 6.2 0 1 0 12.4 0a6.2 6.2 0 1 0 -12.4 0zM1356.6 582.1a6.2 6.2 0 1 0 12.4 0a6.2 6.2 0 1 0 -12.4 0zM1362.4 584.4a6.2 6.2 0 1 0 12.4 0a6.2 6.2 0 1 0 -12.4 0zM1367.6 587.2a6.2 6.2 0 1 0 12.4 0a6.2 6.2 0 1 0 -12.4 0zM1372.1 590.1a6.2 6.2 0 1 0 12.4 0a6.2 6.2 0 1 0 -12.4 0zM1376.1 593.1a6.2 6.2 0 1 0 12.4 0a6.2 6.2 0 1 0 -12.4 0zM1379.5 596.2a6.2 6.2 0 1 0 12.4 0a6.2 6.2 0 1 0 -12.4 0zM1382.4 599.4a6.2 6.2 0 1 0 12.4 0a6.2 6.2 0 1 0 -12.4 0zM1384.8 602.4a6.2 6.2 0 1 0 12.4 0a6.2 6.2 0 1 0 -12.4 0zM1387.2 605.2a6.2 6.2 0 1 0 12.4 0a6.2 6.2 0 1 0 -12.4 0zM1389.6 607.6a6.2 6.2 0 1 0 12.4 0a6.2 6.2 0 1 0 -12.4 0z" fill="#00ff00"/>
<path d="M1265.7 609.6l8 8l-8 8l-8 -8zM1267.3 608.4l8 8l-8 8l-8 -8zM1268.9 607l8 8l-8 8l-8 -8zM1270.7 605.7l8 8l-8 8l-8 -8zM1272.5 604.2l8 8l-8 8l-8 -8zM1274.4 602.7l8 8l-8 8l-8 -8zM1276.5 601.1l8 8l-8 8l-8 -8zM1278.6 599.4l8 8l-8 8l-8 -8zM1280.9 597.6l8 8l-8 8l-8 -8zM1283.2 595.7l8 8l-8 8l-8 -8zM1285.7 593.7l8 8l-8 8l-8 -8zM1288.4 591.7l8 8l-8 8l-8 -8zM1291.1 589.5l8 8l-8 8l-8 -8zM1294 587.1l8 8l-8 8l-8 -8zM1297.1 584.6l8 8l-8 8l-8 -8zM1300.5 581.9l8 8l-8 8l-8 -8zM1304.6 578.9l8 8l-8 8l-8 -8zM1309.5 575.6l8 8l-8 8l-8 -8zM1315.6 572.7l8 8l-8 8l-8 -8zM1323.5 572.3l8 8l-8 8l-8 -8zM1330.8 573.4l8 8l-8 8l-8 -8zM1337.5 574.9l8 8l-8 8l-8 -8zM1342.8 577.7l8 8l-8 8l-8 -8zM1346.8 581.9l8 8l-8 8l-8 -8zM1350.3 585.9l8 8l-8 8l-8 -8zM1353 590l8 8l-8 8l-8 -8zM1354.6 594.2l8 8l-8 8l-8 -8zM1355.5 598.2l8 8l-8 8l-8 -8zM1355.8 602l8 8l-8 8l-8 -8zM1355.9 605.5l8 8l-8 8l-8 -8z" fill="#00ffff"/>
<path d="M1280.1 608.9L1282.3 614.6L1288.4 614.9L1283.6 618.7L1285.2 624.6L1280.1 621.3L1275 624.6L1276.6 618.7L1271.9 614.9L1278 614.6zM1281.3 607.3L1283.5 613L1289.6 613.3L1284.8 617.1L1286.4 623L1281.3 619.7L1276.2 623L1277.8 617.1L1273 613.3L1279.1 613zM1282.5 605.5L1284.7 611.3L1290.8 611.6L1286.1 615.4L1287.6 621.3L1282.5 617.9L1277.4 621.3L1279 615.4L1274.3 611.6L1280.4 611.3zM1283.9 603.7L1286 609.4L1292.1 609.7L1287.4 613.6L1289 619.5L1283.9 616.1L1278.7 619.5L1280.3 613.6L1275.6 609.7L1281.7 609.4zM1285.3 601.8L1287.4 607.5L1293.5 607.8L1288.8 611.6L1290.4 617.5L1285.3 614.2L1280.2 617.5L1281.7 611.6L1277 607.8L1283.1 607.5zM1286.8 599.7L1289 605.4L1295.1 605.7L1290.3 609.6L1291.9 615.5L1286.8 612.1L1281.7 615.5L1283.3 609.6L1278.5 605.7L1284.6 605.4zM1288.5 597.6L1290.7 603.3L1296.8 603.6L1292 607.5L1293.6 613.3L1288.5 610L1283.4 613.3L1285 607.5L1280.2 603.6L1286.3 603.3zM1290.4 595.4L1292.5 601.2L1298.6 601.5L1293.9 605.3L1295.5 611.2L1290.4 607.8L1285.3 611.2L1286.9 605.3L1282.1 601.5L1288.2 601.2zM1292.5 593.3L1294.7 599L1300.8 599.3L1296.1 603.1L1297.7 609L1292.5 605.7L1287.4 609L1289 603.1L1284.3 599.3L1290.4 599zM1295 591.2L1297.2 596.9L1303.3 597.2L1298.5 601L1300.1 606.9L1295 603.6L1289.9 606.9L1291.5 601L1286.7 597.2L1292.8 596.9zM1297.7 589L1299.9 594.7L1306 595L1301.2 598.9L1302.8 604.8L1297.7 601.4L1292.6 604.8L1294.2 598.9L1289.4 595L1295.5 594.7zM1300.7 586.9L1302.9 592.6L1309 592.9L1304.3 596.8L1305.8 602.7L1300.7 599.3L1295.6 602.7L1297.2 596.8L1292.5 592.9L1298.6 592.6zM1304.1 584.9L1306.3 590.6L1312.4 590.9L1307.6 594.8L1309.2 600.7L1304.1 597.3L1299 600.7L1300.6 594.8L1295.8 590.9L1301.9 590.6zM1308 583.1L1310.2 588.8L1316.3 589.1L1311.5 593L1313.1 598.9L1308 595.5L1302.9 598.9L1304.5 593L1299.7 589.1L1305.8 588.8zM1312.7 581.6L1314.9 587.4L1321 587.7L1316.2 591.5L1317.8 597.4L1312.7 594L1307.6 597.4L1309.2 591.5L1304.4 587.7L1310.5 587.4zM1318.2 580.4L1320.4 586.1L1326.5 586.4L1321.7 590.3L1323.3 596.2L1318.2 592.8L1313.1 596.2L1314.7 590.3L1309.9 586.4L1316 586.1zM1324.6 580.6L1326.8 586.3L1332.9 586.6L1328.1 590.5L1329.7 596.4L1324.6 593L1319.5 596.4L1321.1 590.5L1316.3 586.6L1322.4 586.3zM1331.2 582.2L1333.4 587.9L1339.5 588.2L1334.7 592L1336.3 597.9L1331.2 594.6L1326.1 597.9L1327.7 592L1322.9 588.2L1329 587.9zM1337.1 584L1339.2 589.7L1345.3 590L1340.6 593.9L1342.2 599.8L1337.1 596.4L1332 599.8L1333.5 593.9L1328.8 590L1334.9 589.7zM1342.3 586L1344.5 591.7L1350.6 592L1345.8 595.8L1347.4 601.7L1342.3 598.4L1337.2 601.7L1338.8 595.8L1334 592L1340.1 591.7zM1346.8 588.1L1349 593.8L1355.1 594.1L1350.3 598L1351.9 603.9L1346.8 600.5L1341.7 603.9L1343.3 598L1338.6 594.1L1344.7 593.8zM1350.8 590.6L1353 596.3L1359.1 596.6L1354.3 600.4L1355.9 606.3L1350.8 603L1345.7 606.3L1347.3 600.4L1342.6 596.6L1348.7 596.3zM1354.4 593.2L1356.6 598.9L1362.7 599.2L1357.9 603.1L1359.5 609L1354.4 605.6L1349.3 609L1350.9 603.1L1346.1 599.2L1352.2 598.9zM1357.5 595.9L1359.7 601.6L1365.8 601.9L1361 605.8L1362.6 611.7L1357.5 608.3L1352.4 611.7L1354 605.8L1349.3 601.9L1355.3 601.6zM1360.2 598.7L1362.4 604.4L1368.5 604.7L1363.8 608.5L1365.4 614.4L1360.2 611.1L1355.1 614.4L1356.7 608.5L1352 604.7L1358.1 604.4zM1362.5 601.5L1364.7 607.2L1370.8 607.6L1366 611.4L1367.6 617.3L1362.5 613.9L1357.4 617.3L1359 611.4L1354.2 607.6L1360.3 607.2zM1363.8 604.7L1366 610.4L1372.1 610.7L1367.3 614.5L1368.9 620.4L1363.8 617.1L1358.7 620.4L1360.3 614.5L1355.5 610.7L1361.6 610.4z" fill="#808080"/>
</g>
<g id="pc-label" font-weight="bold"><text transform="translate(1152.70 836.20) scale(1.0058 1)" font-size="70" stroke="#000" stroke-width="0.4">(c)</text></g>
<g id="circuit" stroke="#000" stroke-width="5.7" fill="none" stroke-linejoin="miter" stroke-miterlimit="10" stroke-linecap="butt">
<path d="M472.4 1047.6L552.6 1048.6L568.8 1064.6L591.6 1030.6L609.6 1054.6L625.2 1030L647.6 1055.4H733.4"/>
<path d="M985.3 938.9H733.4V1174.7H791.9L805.4 1188.6L822.6 1160L836.4 1180.8L848.6 1159.6L865.2 1182.6H914"/>
<path d="M953.6 920.6L985.3 938.9L953.2 964.3" stroke-linejoin="bevel"/>
<path d="M990.2 920.6L1023 938.9L990.2 963.7" stroke-linejoin="bevel"/>
<path d="M1023 938.9H1206.9V1182.6H1103.4"/>
<path d="M1206.9 1050.3H1318.8"/>
<path d="M987.5 1090L914 1089.6L915 1281.2H980.6L993 1295L1011.6 1266.6L1025.2 1286L1036 1266L1052.6 1287.7H1103.4V1096.2H1034.7"/>
<path d="M954.8 1071.2L987.5 1090.2L953.4 1117.1" stroke-linejoin="bevel"/>
<path d="M1000.8 1076.9L1034.7 1094.6L1000.6 1118.1" stroke-linejoin="bevel"/>
</g>
<g id="circuit-labels" font-weight="bold" fill="#000">
<text transform="translate(578.94 1114.90) scale(0.9145 1)" font-size="60.4" stroke="#000" stroke-width="0.5">R</text>
<text transform="translate(621.97 1155.60) scale(0.9038 1)" font-size="58.5" stroke="#000" stroke-width="0.5">s</text>
<text transform="translate(807.47 1238.80) scale(0.9840 1)" font-size="60.8" stroke="#000" stroke-width="0.5">R</text>
<text transform="translate(851.32 1278.70) scale(0.9759 1)" font-size="58.5" stroke="#000" stroke-width="0.5">c</text>
<text transform="translate(967.46 1212.90) scale(0.9853 1)" font-size="61" stroke="#000" stroke-width="0.5">R</text>
<text transform="translate(1010.99 1252.60) scale(0.9319 1)" font-size="62" stroke="#000" stroke-width="0.5">ct</text>
<text transform="translate(929.97 876.20) scale(0.9993 1)" font-size="45.5" stroke="#000" stroke-width="0.5">CPE</text>
<text transform="translate(1021.06 915.40) scale(1.0685 1)" font-size="46" stroke="#000" stroke-width="0.5">c</text>
<text transform="translate(945.07 1042.20) scale(1.0183 1)" font-size="44.6" stroke="#000" stroke-width="0.5">CPE</text>
<text transform="translate(1035.95 1082.40) scale(0.9990 1)" font-size="46.6" stroke="#000" stroke-width="0.5">dl</text>
</g>
</svg></body></html>
